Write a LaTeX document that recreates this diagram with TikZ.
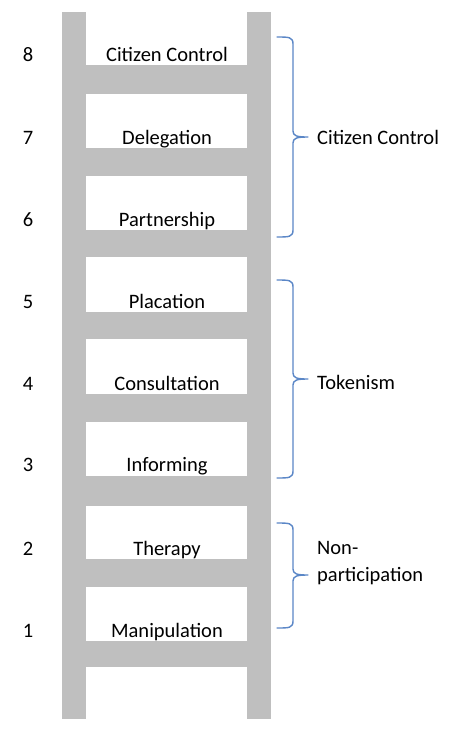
\documentclass[tikz,border=0pt]{standalone}
\usepackage{fontspec}
\setmainfont{Carlito}
\definecolor{railgray}{HTML}{BFBFBF}
\definecolor{braceblue}{HTML}{5B87C7}
\begin{document}
\begin{tikzpicture}[x=1pt,y=-1pt,
  rail/.style={fill=railgray,draw=none},
  rungtxt/.style={anchor=base,inner sep=0pt,font=\fontsize{20.5}{24}\selectfont,text=black},
  numtxt/.style={anchor=base,inner sep=0pt,font=\fontsize{20.5}{24}\selectfont,text=black},
  grouptxt/.style={anchor=base west,inner sep=0pt,font=\fontsize{20.5}{24}\selectfont,text=black,align=left},
  bracepath/.style={draw=braceblue,line width=1.4pt,line cap=round,line join=round}]
\useasboundingbox (0,0) rectangle (450,729);
\fill[white] (0,0) rectangle (450,729);
% rails
\fill[rail] (62,12) rectangle (86,719);
\fill[rail] (247,12) rectangle (271,719);
% rungs
\foreach \t/\b in {65/94,148/176,230/257,312/339,394/422,476/506,559/587,641/667}{
  \fill[rail] (86,\t) rectangle (247,\b);
}
% rung labels
\node[rungtxt] (r8) at (167,61.5) {Citizen Control};
\node[rungtxt] (r7) at (167,144) {Delegation};
\node[rungtxt] (r6) at (167,226) {Partnership};
\node[rungtxt] (r5) at (167,308) {Placation};
\node[rungtxt] (r4) at (167,390) {Consultation};
\node[rungtxt] (r3) at (167,471) {Informing};
\node[rungtxt] (r2) at (167,555) {Therapy};
\node[rungtxt] (r1) at (167,637) {Manipulation};
% numbers
\node[numtxt] (n8) at (28,61.5) {8};
\node[numtxt] (n7) at (28,144) {7};
\node[numtxt] (n6) at (28,226) {6};
\node[numtxt] (n5) at (28,308) {5};
\node[numtxt] (n4) at (28,390) {4};
\node[numtxt] (n3) at (28,471) {3};
\node[numtxt] (n2) at (28,555) {2};
\node[numtxt] (n1) at (28,637) {1};
% braces
\foreach \name/\top/\mid/\bot in {bc/37/137/237, bt/280/379/478, bn/523/575/628}{
  \coordinate (\name-top) at (277,\top);
  \coordinate (\name-tip) at (308,\mid);
  \coordinate (\name-bot) at (277,\bot);
  \draw[bracepath] (\name-top) .. controls (289,\top) and (293,\top) .. (293,\top+7)
    -- (293,\mid-6) .. controls (293,\mid-1) and (297,\mid) .. (\name-tip)
    .. controls (297,\mid) and (293,\mid+1) .. (293,\mid+6)
    -- (293,\bot-7) .. controls (293,\bot) and (289,\bot) .. (\name-bot);
}
% group labels
\node[grouptxt] (gc) at (317,144) {Citizen Control};
\node[grouptxt] (gt) at (317,389) {Tokenism};
\node[grouptxt] (gn1) at (317,554) {Non-};
\node[grouptxt] (gn2) at (317,581) {participation};
\end{tikzpicture}
\end{document}
